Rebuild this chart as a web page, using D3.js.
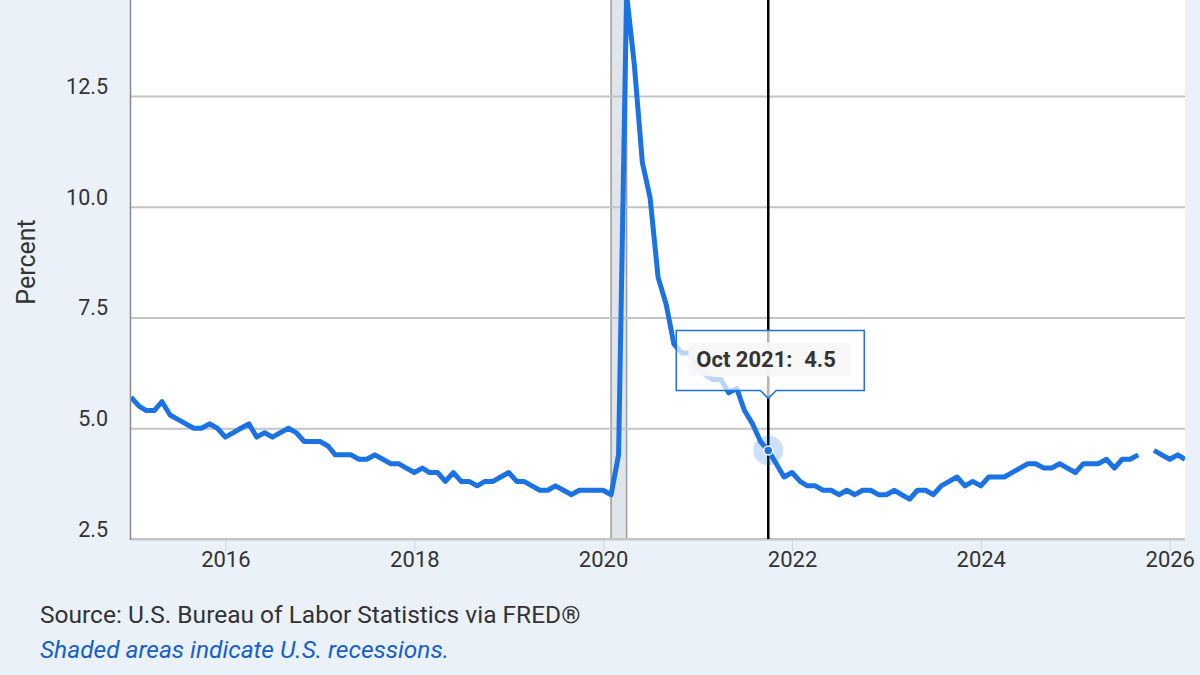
<!DOCTYPE html>
<html><head><meta charset="utf-8">
<script src="https://cdn.jsdelivr.net/npm/d3@7"></script>
<style>
html,body{margin:0;padding:0;background:#ebf1f9;}
svg{display:block;font-family:Roboto,"Noto Sans",sans-serif;}
</style>
</head><body>
<svg id="chart" width="1200" height="675"></svg>
<script>
// ---- data ----
const firstMonth = "2015-01";
const rate2015 = [5.7,5.5,5.4,5.4,5.6,5.3,5.2,5.1,5.0,5.0,5.1,5.0];
const rate2016 = [4.8,4.9,5.0,5.1,4.8,4.9,4.8,4.9,5.0,4.9,4.7,4.7];
const rate2017 = [4.7,4.6,4.4,4.4,4.4,4.3,4.3,4.4,4.3,4.2,4.2,4.1];
const rate2018 = [4.0,4.1,4.0,4.0,3.8,4.0,3.8,3.8,3.7,3.8,3.8,3.9];
const rate2019 = [4.0,3.8,3.8,3.7,3.6,3.6,3.7,3.6,3.5,3.6,3.6,3.6];
const rate2020 = [3.6,3.5,4.4,14.8,13.2,11.0,10.2,8.4,7.8,6.9,6.7,6.7];
const rate2021 = [6.4,6.2,6.1,6.1,5.8,5.9,5.4,5.1,4.7,4.5,4.2,3.9];
const rate2022 = [4.0,3.8,3.7,3.7,3.6,3.6,3.5,3.6,3.5,3.6,3.6,3.5];
const rate2023 = [3.5,3.6,3.5,3.4,3.6,3.6,3.5,3.7,3.8,3.9,3.7,3.8];
const rate2024 = [3.7,3.9,3.9,3.9,4.0,4.1,4.2,4.2,4.1,4.1,4.2,4.1];
const rate2025 = [4.0,4.2,4.2,4.2,4.3,4.1,4.3,4.3,4.4,null,4.5,4.4];
const rate2026 = [4.3,4.4,4.3];
const rates = [].concat(rate2015,rate2016,rate2017,rate2018,rate2019,rate2020,
                        rate2021,rate2022,rate2023,rate2024,rate2025,rate2026);

const xTickYears = [2016,2018,2020,2022,2024,2026];
const yTicks = [2.5,5.0,7.5,10.0,12.5];
const recessionStart = "2020-02";
const recessionEnd = "2020-04";
const highlightMonth = "2021-10";
const sourceText = "Source: U.S. Bureau of Labor Statistics via FRED®";
const noteText = "Shaded areas indicate U.S. recessions.";
const yTitle = "Percent";

// ---- build ----
const parseM = d3.timeParse("%Y-%m");
const start = parseM(firstMonth);
const series = rates.map((v,i)=>({date:d3.timeMonth.offset(start,i), v}));

const L = 131, R = 1185, B = 539, T = -14.75;
const x = d3.scaleTime().domain([start, parseM("2026-03")]).range([L, R]);
const y = d3.scaleLinear().domain([2.5, 15]).range([B, T]);

const svg = d3.select("#chart");
svg.append("rect").attr("width",1200).attr("height",675).attr("fill","#ebf1f9");
svg.append("rect").attr("x",L).attr("y",T).attr("width",R-L).attr("height",B-T).attr("fill","#ffffff");

svg.append("defs").append("clipPath").attr("id","plotclip")
  .append("rect").attr("x",L).attr("y",T-40).attr("width",R-L).attr("height",B-T+40);

// recession band
const rx0 = x(parseM(recessionStart)), rx1 = x(parseM(recessionEnd));
svg.append("rect").attr("x",rx0).attr("y",T).attr("width",rx1-rx0).attr("height",B-T)
  .attr("fill","#e0e5ec");
[rx0, rx1].forEach(v=>svg.append("line").attr("x1",v).attr("x2",v).attr("y1",T).attr("y2",B)
  .attr("stroke","#9a9a9a").attr("stroke-width",1.5));

// y grid + labels
const yAxis = d3.axisLeft(y).tickValues(yTicks).tickSize(-(R-L)).tickFormat(d3.format(".1f"));
const gy = svg.append("g").attr("transform",`translate(${L},0)`).call(yAxis);
gy.select(".domain").remove();
gy.selectAll(".tick line").attr("stroke","#c4c4c4").attr("stroke-width",2);
gy.selectAll(".tick text").attr("x",-23).attr("dy","-0.12em").attr("fill","#333")
  .attr("font-size",21.5).attr("font-family","Roboto");

// x axis
const xAxis = d3.axisBottom(x).tickValues(xTickYears.map(yr=>new Date(yr,0,1)))
  .tickFormat(d3.timeFormat("%Y")).tickSize(12).tickPadding(6);
const gx = svg.append("g").attr("transform",`translate(0,${B})`).call(xAxis);
gx.select(".domain").remove();
gx.selectAll(".tick line").attr("stroke","#ccd6e4").attr("stroke-width",1);
gx.selectAll(".tick text").attr("fill","#333").attr("font-size",22).attr("font-family","Roboto")
  .attr("dy","0.45em");
// bottom line and left axis line
svg.append("line").attr("x1",L).attr("x2",R).attr("y1",B).attr("y2",B)
  .attr("stroke","#c4c4c4").attr("stroke-width",2);
svg.append("line").attr("x1",L-0.5).attr("x2",L-0.5).attr("y1",T).attr("y2",B+1)
  .attr("stroke","#8a8a8a").attr("stroke-width",1.5);

// y title
svg.append("text").attr("transform","translate(35,262) rotate(-90)").attr("text-anchor","middle")
  .attr("fill","#333").attr("font-size",25).text(yTitle);

// crosshair
const hp = series.find(d=>d3.timeFormat("%Y-%m")(d.date)===highlightMonth);
const hx = x(hp.date), hy = y(hp.v);
svg.append("line").attr("x1",hx).attr("x2",hx).attr("y1",T).attr("y2",B)
  .attr("stroke","#000").attr("stroke-width",2.5);

// series line
const line = d3.line().defined(d=>d.v!=null).x(d=>x(d.date)).y(d=>y(d.v));
svg.append("path").datum(series).attr("clip-path","url(#plotclip)")
  .attr("d",line).attr("fill","none").attr("stroke","#1a72e3").attr("stroke-width",5)
  .attr("stroke-linejoin","round");

// highlighted point
svg.append("circle").attr("cx",hx).attr("cy",hy).attr("r",15).attr("fill","#1a72e3").attr("fill-opacity",0.22);
svg.append("circle").attr("cx",hx).attr("cy",hy).attr("r",4.5).attr("fill","#1a72e3")
  .attr("stroke","#fff").attr("stroke-width",1.5);

// tooltip
const bl = hx-92, br = hx+96, bt = hy-120, bb = hy-60, tip = hy-52;
const tipPath = `M${bl},${bt}H${br}V${bb}H${hx+8}L${hx},${tip}L${hx-8},${bb}H${bl}Z`;
svg.append("path").attr("d",tipPath).attr("fill","#fff").attr("fill-opacity",0.7)
  .attr("stroke","#1a72e3").attr("stroke-width",1.5);
svg.append("rect").attr("x",bl+12).attr("y",bt+12).attr("width",163).attr("height",34)
  .attr("fill","#f6f6f6").attr("fill-opacity",0.9);
svg.append("text").attr("x",bl+20).attr("y",bt+37).attr("fill","#333").attr("font-weight","bold")
  .attr("font-size",22).text(d3.timeFormat("%b %Y")(hp.date)+":");
svg.append("text").attr("x",bl+128).attr("y",bt+37).attr("fill","#333").attr("font-weight","bold")
  .attr("font-size",22).text(d3.format(".1f")(hp.v));

// notes
svg.append("text").attr("x",40).attr("y",623).attr("fill","#333").attr("font-size",24.5).text(sourceText);
svg.append("text").attr("x",40).attr("y",658).attr("fill","#1560c8").attr("font-size",24.5)
  .attr("font-style","italic").text(noteText);
</script>
</body></html>
